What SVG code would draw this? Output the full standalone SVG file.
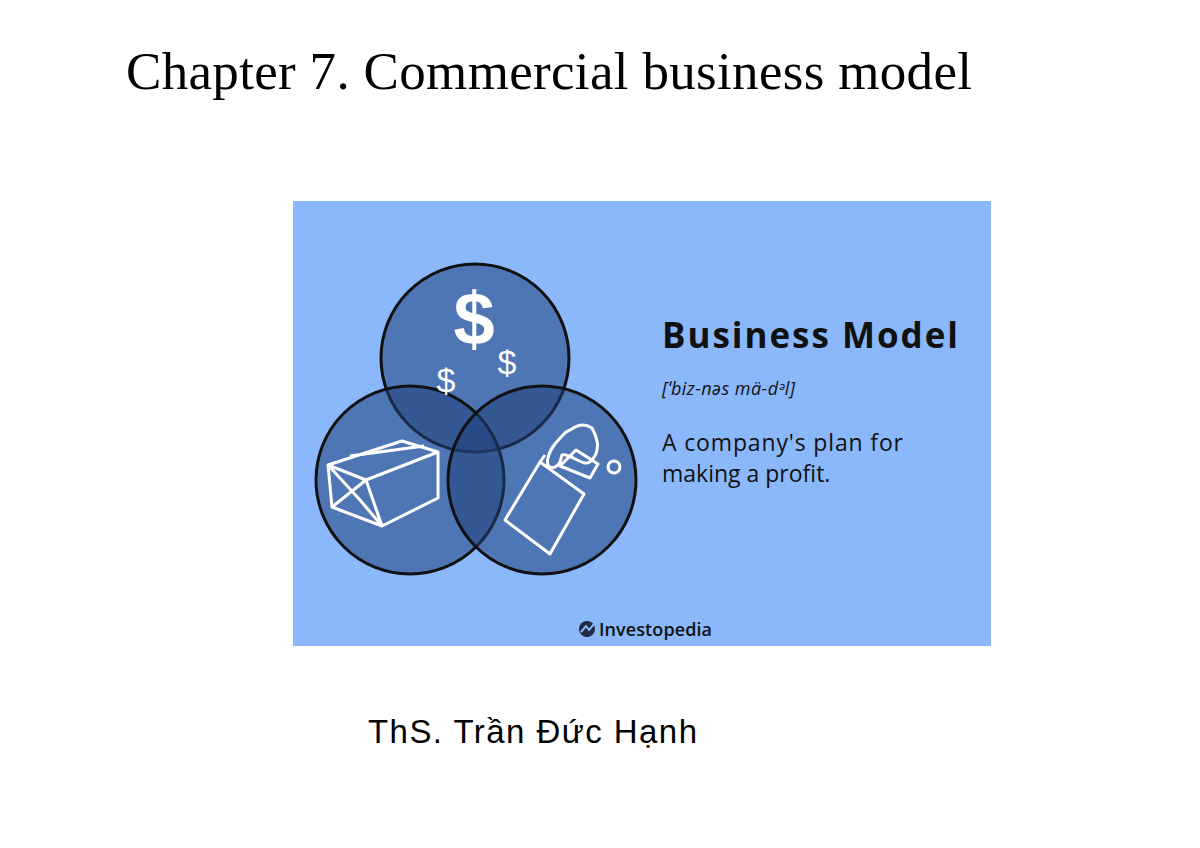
<svg xmlns="http://www.w3.org/2000/svg" width="1200" height="848" viewBox="0 0 1200 848">
<style>
.c{fill:#1f3f7a;fill-opacity:.55;stroke:#111;stroke-width:3}
.w{fill:none;stroke:#fff;stroke-width:3;stroke-linejoin:round}
.d{fill:#fff;font-family:"Liberation Sans",sans-serif}
.t{font-family:"Open Sans","Noto Sans",sans-serif;fill:#111}
</style>
<rect width="1200" height="848" fill="#fff"/>
<text x="126" y="89" font-family="Liberation Serif,serif" font-size="53" fill="#000" textLength="846">Chapter 7. Commercial business model</text>
<g id="image">
<rect x="293" y="201" width="698" height="445" fill="#8ab8fb"/>
<circle id="top" class="c" cx="475" cy="358" r="94"/>
<circle id="left" class="c" cx="410" cy="480" r="94"/>
<circle id="right" class="c" cx="542" cy="480" r="94"/>
<text class="d" x="474" y="344" font-size="74" font-weight="bold" text-anchor="middle">$</text>
<text class="d" x="446" y="392" font-size="34" text-anchor="middle">$</text>
<text class="d" x="507" y="374" font-size="34" text-anchor="middle">$</text>
<g class="w">
<path d="M328 465 L402 441 L438 452 L366 480 Z M366 480 L382 526 L438 498 L438 452 M328 465 L332 507 L382 526 M328 465 L360 500 L382 526 M332 507 L366 480 M350 456 L424 446"/>
<path d="M505 520 L550 554 L584 494 L540 462 Z M540 462 L545 455 M592 428 C580 420 572 430 566 432 C558 440 550 448 548 458 C545 470 555 470 560 462 L562 455 C570 452 585 470 592 460 C602 448 596 436 592 428 Z M560 466 L576 450 L598 464 L590 478 Z"/>
<circle cx="614" cy="467" r="6"/>
</g>
</g>
<text class="t" x="662" y="348" font-size="35" font-weight="bold" fill="#0d1b30" textLength="296">Business Model</text>
<text class="t" x="662" y="395" font-size="18" font-style="italic" fill="#1a2a4a" textLength="133">[ˈbiz-nəs mä-dᵊl]</text>
<text class="t" x="662" y="451" font-size="23" fill="#0d1b30" textLength="241">A company's plan for</text>
<text class="t" x="662" y="482" font-size="23" fill="#0d1b30">making a profit.</text>
<circle cx="587" cy="629" r="8" fill="#1f2a44"/>
<path d="M581 632 L586 626 L589 630 L594 624" stroke="#8ab8fb" stroke-width="2" fill="none"/>
<text class="t" x="599" y="636" font-size="18" font-weight="600" fill="#1f2a44" textLength="113">Investopedia</text>
<text x="368" y="743" font-family="Liberation Sans,sans-serif" font-size="33" fill="#000" textLength="329">ThS. Trần Đức Hạnh</text>
</svg>
